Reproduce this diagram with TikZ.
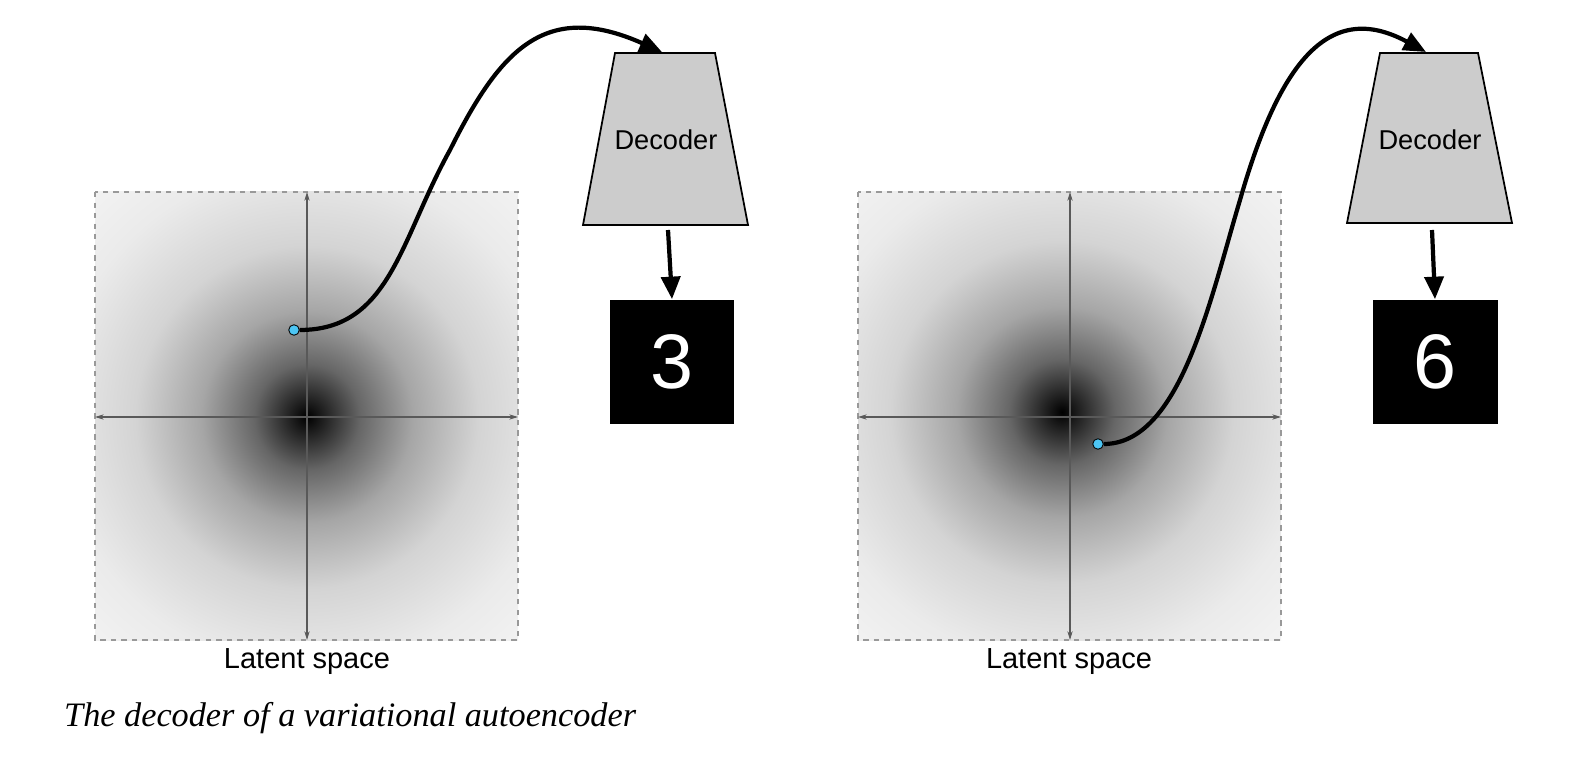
\documentclass[tikz,border=0pt]{standalone}
\usepackage{fontspec}
\setmainfont{Liberation Serif}
\setsansfont{Liberation Sans}
\usetikzlibrary{arrows.meta}
\pgfdeclareradialshading{blob}{\pgfpoint{0bp}{0bp}}{color(0bp)=(black); color(1bp)=(black!90); color(4bp)=(black!60); color(8bp)=(black!35); color(13bp)=(black!17); color(19bp)=(black!8); color(25bp)=(black!4); color(50bp)=(black!4)}
\tikzset{
  axis/.style={draw=black!65, line width=0.6pt, {Stealth[length=5pt,width=3pt]}-{Stealth[length=5pt,width=3pt]}},
  frame/.style={draw=black!40, dashed, line width=0.6pt},
  big/.style={line width=2.4pt, -{Triangle[length=0.45cm,width=0.38cm]}},
  dec/.style={fill=black!20, draw=black, line width=1pt},
  lbl/.style={font=\sffamily\fontsize{16.5}{18}\selectfont},
  declbl/.style={font=\sffamily\fontsize{15.5}{17}\selectfont},
  pt/.style={circle, fill=cyan!70, draw=black, line width=0.5pt, inner sep=0pt, minimum size=6pt},
  digit/.style={fill=black, minimum size=2.5cm, inner sep=0pt, text=white!85, font=\sffamily\fontsize{44}{50}\selectfont}
}
\begin{document}
\begin{tikzpicture}[x=0.02cm,y=-0.02cm]
\useasboundingbox[fill=white] (0,0) rectangle (1575,763);
% left panel
\begin{scope}
\clip (95,192) rectangle (518,640);
\fill[black!4] (95,192) rectangle (518,640);
\shade[shading=blob] (307,417) circle (330);
\end{scope}
\draw[frame] (95,192) rectangle (518,640);
\draw[axis] (307,192) -- (307,640);
\draw[axis] (95,417) -- (518,417);
\node[lbl] (ls1) at (307,662) {Latent space};
\draw[dec] (615,53) -- (715,53) -- (748,225) -- (583,225) -- cycle;
\coordinate (d1top) at (662,52);
\coordinate (d1bot) at (668,230);
\node[declbl] (d1) at (666,140) {Decoder};
\node[digit] (img1) at (672,362) {3};
\node[pt] (p1) at (294,330) {};
\draw[big] (p1.east) .. controls (390,330) and (400,240) .. (450,150) .. controls (500,50) and (545,0) .. (d1top);
\draw[big] (d1bot) -- (img1.north);
% right panel
\begin{scope}
\clip (858,192) rectangle (1281,640);
\fill[black!4] (858,192) rectangle (1281,640);
\shade[shading=blob] (1062,412) circle (330);
\end{scope}
\draw[frame] (858,192) rectangle (1281,640);
\draw[axis] (1070,192) -- (1070,640);
\draw[axis] (858,417) -- (1281,417);
\node[lbl] (ls2) at (1069,662) {Latent space};
\draw[dec] (1380,53) -- (1478,53) -- (1512,223) -- (1347,223) -- cycle;
\coordinate (d2top) at (1426,52);
\coordinate (d2bot) at (1432,230);
\node[declbl] (d2) at (1430,140) {Decoder};
\node[digit] (img2) at (1435,362) {6};
\node[pt] (p2) at (1098,444) {};
\draw[big] (p2.east) .. controls (1180,444) and (1210,300) .. (1240,200) .. controls (1280,60) and (1330,0) .. (d2top);
\draw[big] (d2bot) -- (img2.north);
\node[anchor=west, font=\itshape\fontsize{19.5}{22}\selectfont] (cap) at (58,718) {The decoder of a variational autoencoder};
\end{tikzpicture}
\end{document}
